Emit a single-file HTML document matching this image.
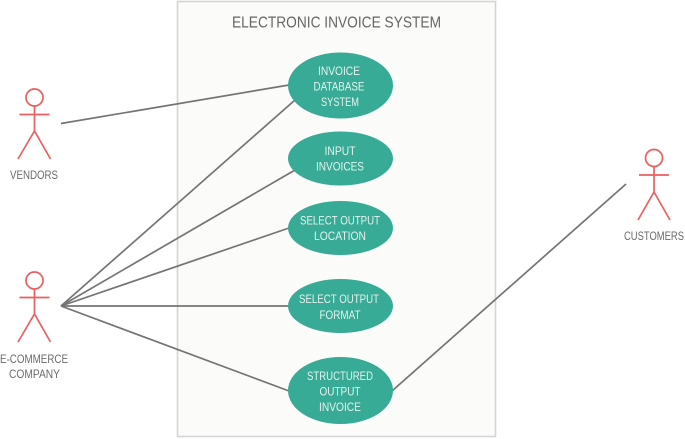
<!DOCTYPE html>
<html>
<head>
<meta charset="utf-8">
<style>
html,body{margin:0;padding:0;background:#fff;width:685px;height:439px;overflow:hidden}
svg{display:block;filter:blur(0.35px)}
text{font-family:"Liberation Sans",sans-serif;text-anchor:middle}
.w{fill:#e4f3ef;font-size:11.5px}
.g{fill:#6a6a6a;font-size:11.5px}
.l{stroke:#747474;stroke-width:1.7;fill:none}
.a{stroke:#ea5f5f;stroke-width:1.7;fill:none}
.e{fill:#37ab95}
</style>
</head>
<body>
<svg width="685" height="439" viewBox="0 0 685 439" xmlns="http://www.w3.org/2000/svg">
<rect x="177.5" y="1.5" width="318" height="435" fill="#fbfbf9" stroke="#d4d4d4" stroke-width="1.6"/>
<text x="336.5" y="27.500" font-size="16" fill="#666" textLength="209" lengthAdjust="spacingAndGlyphs">ELECTRONIC INVOICE SYSTEM</text>

<line class="l" x1="61" y1="123.500" x2="289" y2="85"/>
<line class="l" x1="61" y1="306" x2="295" y2="100"/>
<line class="l" x1="61" y1="306" x2="295" y2="170"/>
<line class="l" x1="61" y1="306" x2="289" y2="228"/>
<line class="l" x1="61" y1="306" x2="289" y2="306"/>
<line class="l" x1="61" y1="306" x2="289" y2="391"/>
<line class="l" x1="392" y1="391" x2="626" y2="184"/>

<ellipse class="e" cx="340.500" cy="85.500" rx="52.500" ry="33"/>
<ellipse class="e" cx="340.500" cy="158.500" rx="52.500" ry="27"/>
<ellipse class="e" cx="340.500" cy="228" rx="52.500" ry="27"/>
<ellipse class="e" cx="340.500" cy="306" rx="52.500" ry="27"/>
<ellipse class="e" cx="340.500" cy="390.500" rx="52.500" ry="33.500"/>

<text class="w" x="339" y="75" textLength="42" lengthAdjust="spacingAndGlyphs">INVOICE</text>
<text class="w" x="339" y="90.500" textLength="51" lengthAdjust="spacingAndGlyphs">DATABASE</text>
<text class="w" x="340" y="106" textLength="38" lengthAdjust="spacingAndGlyphs">SYSTEM</text>
<text class="w" x="340" y="155" textLength="31" lengthAdjust="spacingAndGlyphs">INPUT</text>
<text class="w" x="340" y="170.500" textLength="48" lengthAdjust="spacingAndGlyphs">INVOICES</text>
<text class="w" x="340" y="224.500" textLength="80" lengthAdjust="spacingAndGlyphs">SELECT OUTPUT</text>
<text class="w" x="340" y="240" textLength="52" lengthAdjust="spacingAndGlyphs">LOCATION</text>
<text class="w" x="339" y="303" textLength="80" lengthAdjust="spacingAndGlyphs">SELECT OUTPUT</text>
<text class="w" x="340" y="319" textLength="41" lengthAdjust="spacingAndGlyphs">FORMAT</text>
<text class="w" x="340" y="380" textLength="66" lengthAdjust="spacingAndGlyphs">STRUCTURED</text>
<text class="w" x="340" y="395.500" textLength="41" lengthAdjust="spacingAndGlyphs">OUTPUT</text>
<text class="w" x="340" y="411" textLength="42" lengthAdjust="spacingAndGlyphs">INVOICE</text>

<g class="a">
<circle cx="34.500" cy="97.500" r="8.500"/>
<path d="M34.500 106V131M19.500 114.500H49.500M18 159L34.500 131L50.500 159"/>
</g>
<text class="g" x="34" y="179" textLength="48" lengthAdjust="spacingAndGlyphs">VENDORS</text>

<g class="a">
<circle cx="34.500" cy="280.500" r="8.500"/>
<path d="M34.500 289V314M19.500 297.500H49.500M18 342L34.500 314L50.500 342"/>
</g>
<text class="g" x="34" y="363" textLength="68" lengthAdjust="spacingAndGlyphs">E-COMMERCE</text>
<text class="g" x="34.500" y="378" textLength="51" lengthAdjust="spacingAndGlyphs">COMPANY</text>

<g class="a">
<circle cx="654" cy="158" r="8.500"/>
<path d="M654 166.500V192M639 175H669M638 220L654 192L670 220"/>
</g>
<text class="g" x="654" y="240" textLength="60" lengthAdjust="spacingAndGlyphs">CUSTOMERS</text>
</svg>
</body>
</html>
